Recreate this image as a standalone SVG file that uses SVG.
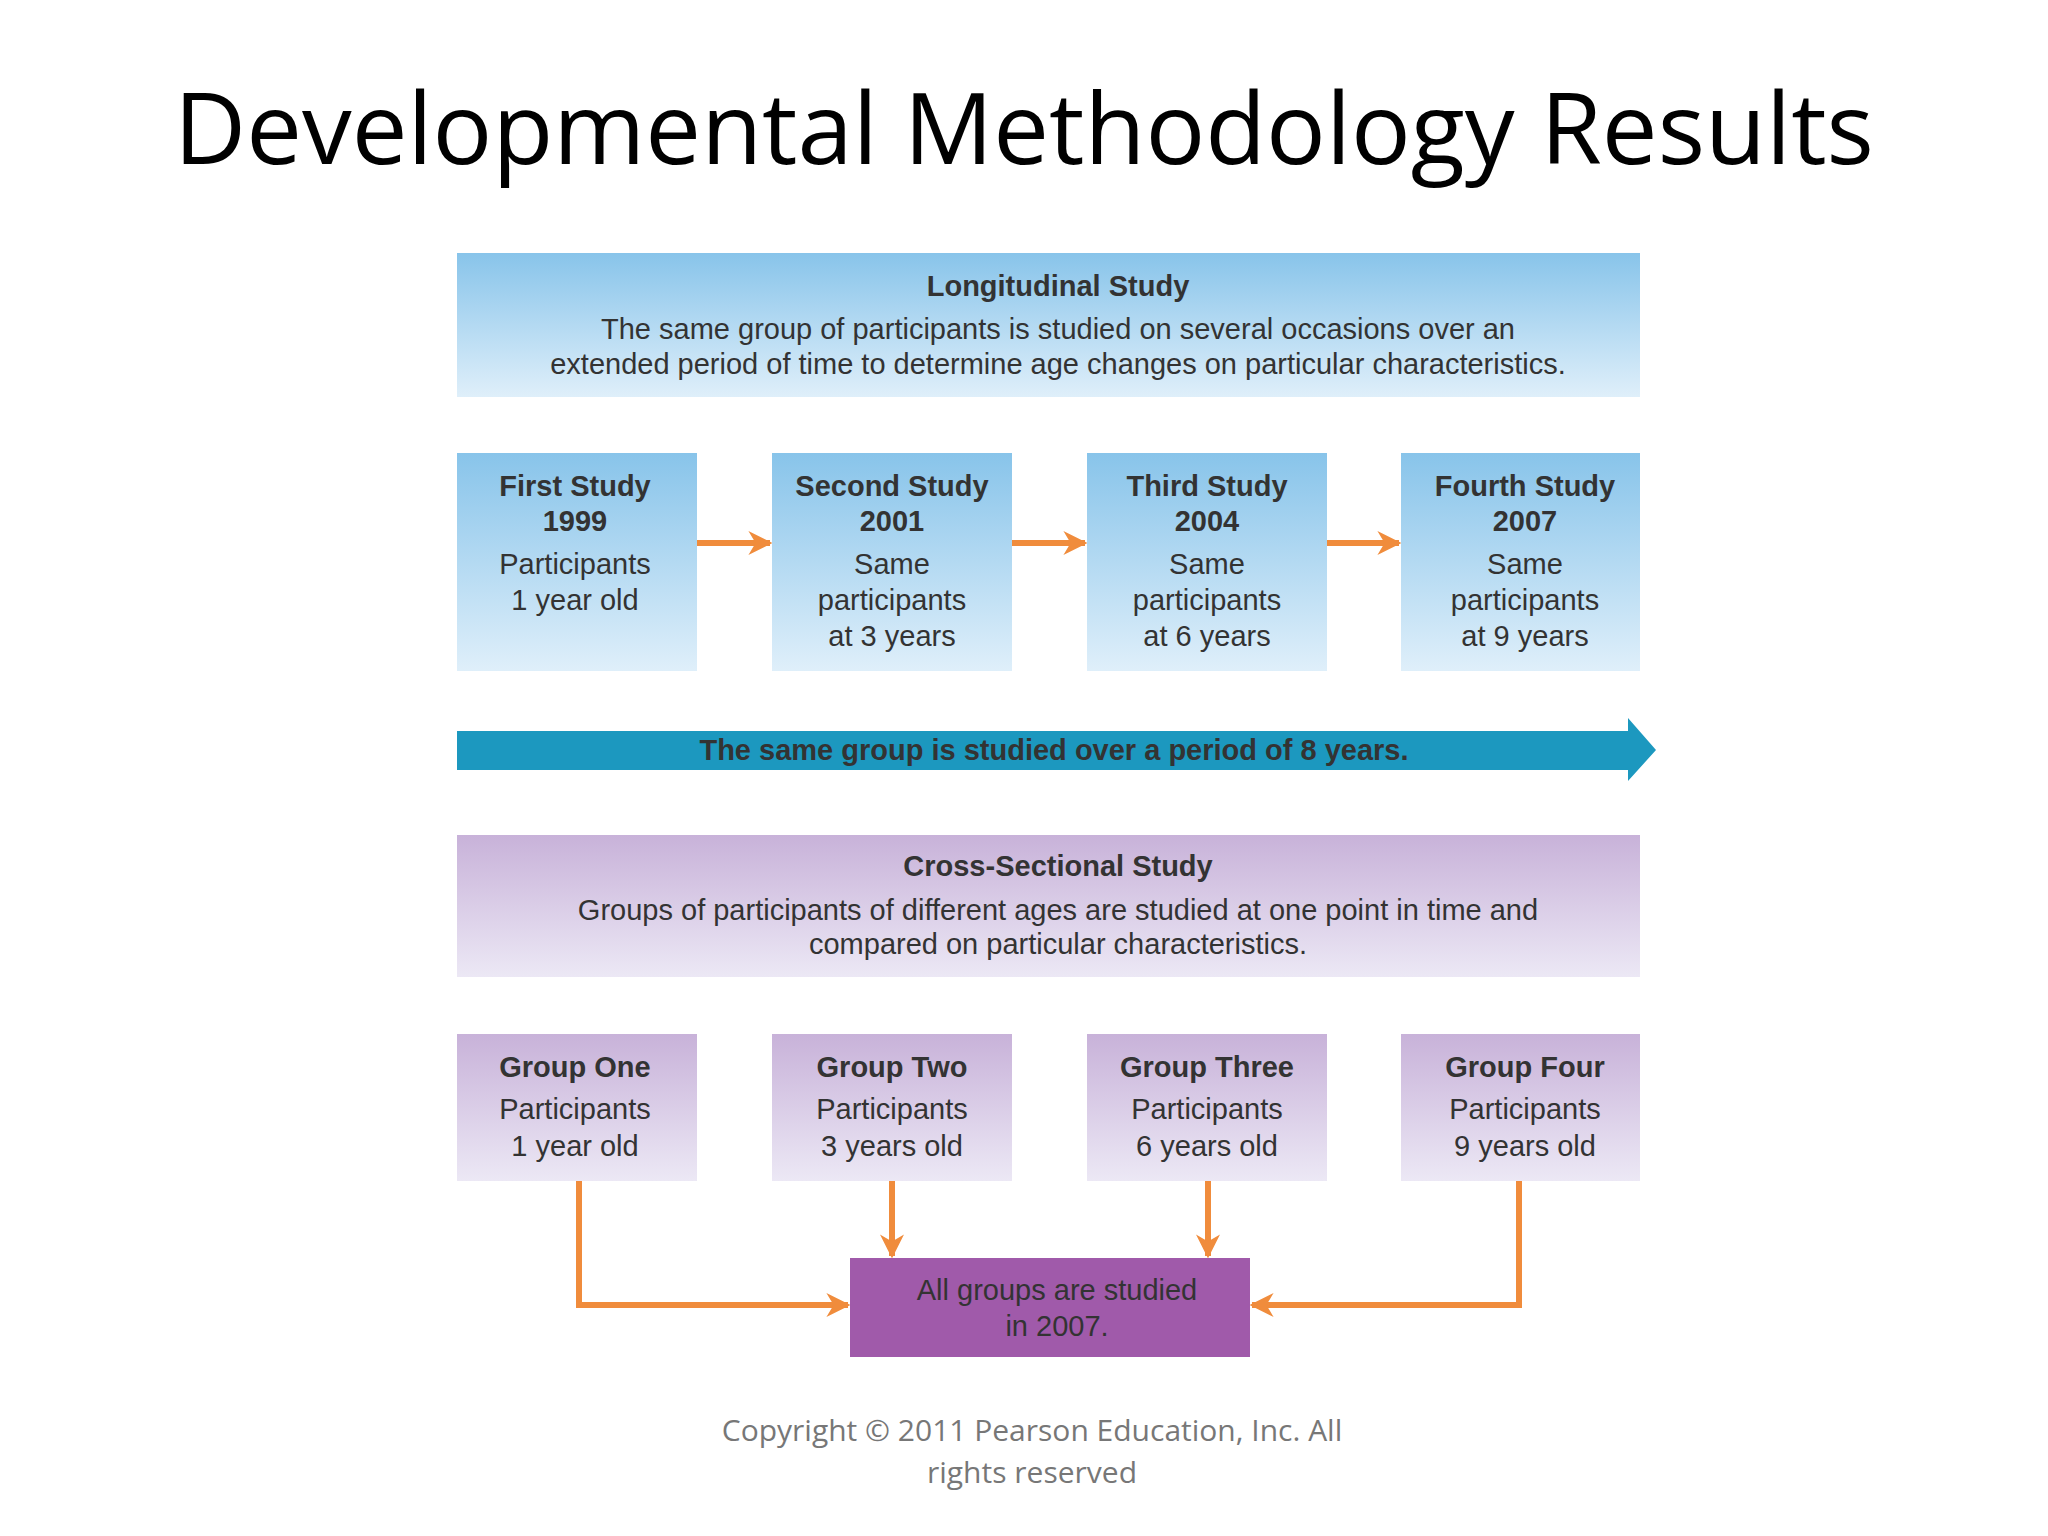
<svg xmlns="http://www.w3.org/2000/svg" width="2048" height="1536" viewBox="0 0 2048 1536">
<defs>
<linearGradient id="gb" x1="0" y1="0" x2="0" y2="1"><stop offset="0" stop-color="#88c4ea"/><stop offset="1" stop-color="#dfeffa"/></linearGradient>
<linearGradient id="gp" x1="0" y1="0" x2="0" y2="1"><stop offset="0" stop-color="#c8b2d9"/><stop offset="1" stop-color="#ece8f5"/></linearGradient>
<marker id="ah" viewBox="0 0 10 10" refX="9" refY="5" markerWidth="4" markerHeight="4" orient="auto" markerUnits="strokeWidth"><path d="M0,0 L10,5 L0,10 L3,5 Z" fill="#f08c3c"/></marker>
</defs>
<style>
.t{font-family:"Liberation Sans",Arial,sans-serif;fill:#333;text-anchor:middle;font-size:29px}
.b{font-weight:bold}
.c{fill:none;stroke:#f08c3c;stroke-width:6;marker-end:url(#ah)}
</style>
<rect width="2048" height="1536" fill="#fff"/>
<text x="1024" y="164" font-family="'Open Sans','Noto Sans',sans-serif" font-size="98" fill="#000" text-anchor="middle" textLength="1700" lengthAdjust="spacingAndGlyphs">Developmental Methodology Results</text>
<g id="longitudinal"><rect x="457" y="253" width="1183" height="144" fill="url(#gb)"/>
<text class="t b" x="1058" y="296">Longitudinal Study</text>
<text class="t" x="1058" y="339">The same group of participants is studied on several occasions over an</text>
<text class="t" x="1058" y="374">extended period of time to determine age changes on particular characteristics.</text></g>
<g id="s1"><rect x="457" y="453" width="240" height="218" fill="url(#gb)"/>
<text class="t b" x="575" y="496">First Study</text><text class="t b" x="575" y="531">1999</text>
<text class="t" x="575" y="574">Participants</text><text class="t" x="575" y="610">1 year old</text></g>
<g id="s2"><rect x="772" y="453" width="240" height="218" fill="url(#gb)"/>
<text class="t b" x="892" y="496">Second Study</text><text class="t b" x="892" y="531">2001</text>
<text class="t" x="892" y="574">Same</text><text class="t" x="892" y="610">participants</text><text class="t" x="892" y="646">at 3 years</text></g>
<g id="s3"><rect x="1087" y="453" width="240" height="218" fill="url(#gb)"/>
<text class="t b" x="1207" y="496">Third Study</text><text class="t b" x="1207" y="531">2004</text>
<text class="t" x="1207" y="574">Same</text><text class="t" x="1207" y="610">participants</text><text class="t" x="1207" y="646">at 6 years</text></g>
<g id="s4"><rect x="1401" y="453" width="239" height="218" fill="url(#gb)"/>
<text class="t b" x="1525" y="496">Fourth Study</text><text class="t b" x="1525" y="531">2007</text>
<text class="t" x="1525" y="574">Same</text><text class="t" x="1525" y="610">participants</text><text class="t" x="1525" y="646">at 9 years</text></g>
<g id="timeline"><path d="M457,731 H1628 V718 L1656,750 L1628,781 V770 H457 Z" fill="#1c98bf"/>
<text class="t b" x="1054" y="760" font-size="28" fill="#1a2a3a">The same group is studied over a period of 8 years.</text></g>
<g id="cross"><rect x="457" y="835" width="1183" height="142" fill="url(#gp)"/>
<text class="t b" x="1058" y="876">Cross-Sectional Study</text>
<text class="t" x="1058" y="920">Groups of participants of different ages are studied at one point in time and</text>
<text class="t" x="1058" y="954">compared on particular characteristics.</text></g>
<g id="g1"><rect x="457" y="1034" width="240" height="147" fill="url(#gp)"/>
<text class="t b" x="575" y="1077">Group One</text><text class="t" x="575" y="1119">Participants</text><text class="t" x="575" y="1156">1 year old</text></g>
<g id="g2"><rect x="772" y="1034" width="240" height="147" fill="url(#gp)"/>
<text class="t b" x="892" y="1077">Group Two</text><text class="t" x="892" y="1119">Participants</text><text class="t" x="892" y="1156">3 years old</text></g>
<g id="g3"><rect x="1087" y="1034" width="240" height="147" fill="url(#gp)"/>
<text class="t b" x="1207" y="1077">Group Three</text><text class="t" x="1207" y="1119">Participants</text><text class="t" x="1207" y="1156">6 years old</text></g>
<g id="g4"><rect x="1401" y="1034" width="239" height="147" fill="url(#gp)"/>
<text class="t b" x="1525" y="1077">Group Four</text><text class="t" x="1525" y="1119">Participants</text><text class="t" x="1525" y="1156">9 years old</text></g>
<g id="all"><rect x="850" y="1258" width="400" height="99" fill="#a05aaa"/>
<text class="t" x="1057" y="1300">All groups are studied</text><text class="t" x="1057" y="1336">in 2007.</text></g>
<g id="connectors">
<path class="c" d="M697,543 H770"/>
<path class="c" d="M1012,543 H1085"/>
<path class="c" d="M1327,543 H1399"/>
<path class="c" d="M579,1181 V1305 H848"/>
<path class="c" d="M1519,1181 V1305 H1252"/>
<path class="c" d="M892,1181 V1256"/>
<path class="c" d="M1208,1181 V1256"/>
</g>
<text x="1032" y="1441" font-family="'Open Sans','Noto Sans',sans-serif" font-size="30" fill="#777" text-anchor="middle">Copyright © 2011 Pearson Education, Inc. All</text>
<text x="1032" y="1483" font-family="'Open Sans','Noto Sans',sans-serif" font-size="30" fill="#777" text-anchor="middle">rights reserved</text>
</svg>
